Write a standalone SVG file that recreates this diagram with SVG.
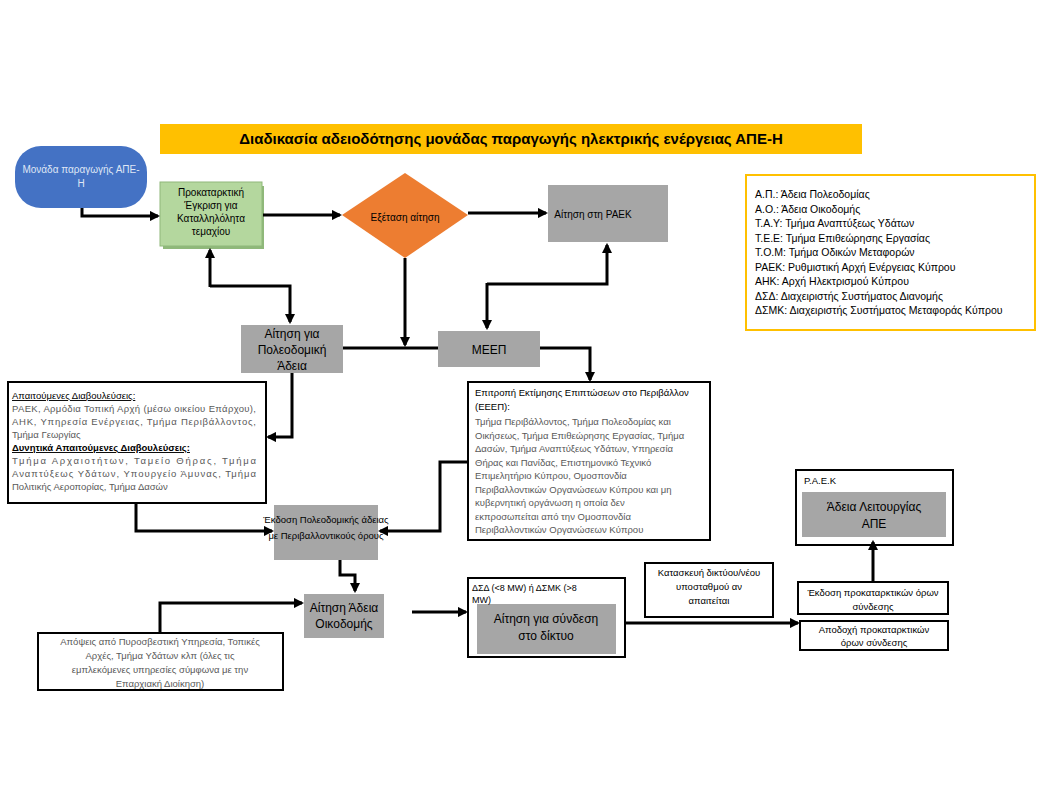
<svg xmlns="http://www.w3.org/2000/svg" width="1050" height="811" viewBox="0 0 1050 811">
<style>
text{font-family:"Liberation Sans",Arial,sans-serif;fill:#000}
.c{text-anchor:middle}
.g{fill:#a6a6a6}
.bx{fill:#fff;stroke:#000;stroke-width:2}
.gr{fill:#595959}
.cn path{fill:none;stroke:#000;stroke-width:3}
</style>
<defs>
<marker id="a" viewBox="0 0 10 10" refX="8" refY="5" markerWidth="3.5" markerHeight="3.5" orient="auto"><path d="M0,0L10,5L0,10z" fill="#000"/></marker>
</defs>
<rect width="1050" height="811" fill="#fff"/>
<g id="title"><rect x="160" y="124" width="702" height="30" fill="#ffc000"/><text class="c" x="511" y="144" font-size="15" font-weight="bold">Διαδικασία αδειοδότησης μονάδας παραγωγής ηλεκτρικής ενέργειας ΑΠΕ-Η</text></g>
<g id="start"><rect x="15" y="146" width="132" height="62" rx="26" fill="#4472c4"/><text class="c" x="81" y="173" font-size="10" style="fill:#dfe6f5">Μονάδα παραγωγής ΑΠΕ-</text><text class="c" x="81" y="187" font-size="10" style="fill:#dfe6f5">Η</text></g>
<g id="green"><rect x="163" y="186" width="101" height="63" fill="#8fb87a"/><rect x="160" y="182" width="102" height="64" fill="#b4d79e" stroke="#8fb87a"/><text class="c" x="211" y="196" font-size="10">Προκαταρκτική</text><text class="c" x="211" y="209" font-size="10">Έγκριση για</text><text class="c" x="211" y="222" font-size="10">Καταλληλόλητα</text><text class="c" x="211" y="235" font-size="10">τεμαχίου</text></g>
<g id="diamond"><polygon points="405,173 468,215 405,258 342,215" fill="#ed7d31"/><text class="c" x="405" y="221" font-size="10">Εξέταση αίτηση</text></g>
<g id="raek1"><rect x="548" y="185" width="120" height="57" class="g"/><text class="c" x="593" y="218" font-size="10">Αίτηση στη ΡΑΕΚ</text></g>
<g id="poleod"><rect x="241" y="325" width="102" height="48" class="g"/><text class="c" x="292" y="338" font-size="12">Αίτηση για</text><text class="c" x="292" y="354" font-size="12">Πολεοδομική</text><text class="c" x="292" y="370" font-size="12">Άδεια</text></g>
<g id="meep"><rect x="438" y="331" width="102" height="36" class="g"/><text class="c" x="489" y="354" font-size="12">ΜΕΕΠ</text></g>
<g id="legend"><rect x="746" y="175" width="289" height="155" fill="#fff" stroke="#ffc000" stroke-width="2"/>
<g font-size="10.5"><text x="755" y="198">Α.Π.: Άδεια Πολεοδομίας</text><text x="755" y="212.5">Α.Ο.: Άδεια Οικοδομής</text><text x="755" y="227">Τ.Α.Υ: Τμήμα Αναπτύξεως Υδάτων</text><text x="755" y="241.5">Τ.Ε.Ε: Τμήμα Επιθεώρησης Εργασίας</text><text x="755" y="256">Τ.Ο.Μ: Τμήμα Οδικών Μεταφορών</text><text x="755" y="270.5">ΡΑΕΚ: Ρυθμιστική Αρχή Ενέργειας Κύπρου</text><text x="755" y="285">ΑΗΚ: Αρχή Ηλεκτρισμού Κύπρου</text><text x="755" y="299.5">ΔΣΔ: Διαχειριστής Συστήματος Διανομής</text><text x="755" y="314">ΔΣΜΚ: Διαχειριστής Συστήματος Μεταφοράς Κύπρου</text></g></g>
<g id="consult"><rect x="8" y="382" width="258" height="121" class="bx"/>
<g font-size="9.5"><text x="12" y="399" text-decoration="underline">Απαιτούμενες Διαβουλεύσεις:</text>
<text x="12" y="412" class="gr" textLength="244" lengthAdjust="spacing">ΡΑΕΚ, Αρμόδια Τοπική Αρχή (μέσω οικείου Επάρχου),</text>
<text x="12" y="425" class="gr" textLength="244" lengthAdjust="spacing">ΑΗΚ, Υπηρεσία Ενέργειας, Τμήμα Περιβάλλοντος,</text>
<text x="12" y="438" class="gr">Τμήμα Γεωργίας</text>
<text x="12" y="451" font-weight="bold" text-decoration="underline">Δυνητικά Απαιτούμενες Διαβουλεύσεις:</text>
<text x="12" y="464" class="gr" textLength="244" lengthAdjust="spacing">Τμήμα Αρχαιοτήτων, Ταμείο Θήρας, Τμήμα</text>
<text x="12" y="477" class="gr" textLength="244" lengthAdjust="spacing">Αναπτύξεως Υδάτων, Υπουργείο Άμυνας, Τμήμα</text>
<text x="12" y="490" class="gr">Πολιτικής Αεροπορίας, Τμήμα Δασών</text></g></g>
<g id="eeep"><rect x="468" y="382" width="242" height="158" class="bx"/>
<g font-size="9.5"><text x="475" y="396">Επιτροπή Εκτίμησης Επιπτώσεων στο Περιβάλλον</text><text x="475" y="410">(ΕΕΕΠ):</text>
<g class="gr"><text x="475" y="425" class="gr">Τμήμα Περιβάλλοντος, Τμήμα Πολεοδομίας και</text><text x="475" y="438.5" class="gr">Οικήσεως, Τμήμα Επιθεώρησης Εργασίας, Τμήμα</text><text x="475" y="452" class="gr">Δασών, Τμήμα Αναπτύξεως Υδάτων, Υπηρεσία</text><text x="475" y="465.5" class="gr">Θήρας και Πανίδας, Επιστημονικό Τεχνικό</text><text x="475" y="479" class="gr">Επιμελητήριο Κύπρου, Ομοσπονδία</text><text x="475" y="492.5" class="gr">Περιβαλλοντικών Οργανώσεων Κύπρου και μη</text><text x="475" y="506" class="gr">κυβερνητική οργάνωση η οποία δεν</text><text x="475" y="519.5" class="gr">εκπροσωπείται από την Ομοσπονδία</text><text x="475" y="533" class="gr">Περιβαλλοντικών Οργανώσεων Κύπρου</text></g></g></g>
<g id="ekdosi"><rect x="274" y="505" width="104" height="55" class="g"/><text class="c" x="326" y="523" font-size="9.5">Έκδοση Πολεοδομικής άδειας</text><text class="c" x="326" y="539" font-size="9.5">με Περιβαλλοντικούς όρους</text></g>
<g id="oikod"><rect x="304" y="594" width="80" height="44" class="g"/><text class="c" x="344" y="612" font-size="12">Αίτηση Άδεια</text><text class="c" x="344" y="628" font-size="12">Οικοδομής</text></g>
<g id="apopseis"><rect x="38" y="633" width="245" height="57" class="bx" stroke-width="1.5"/><g font-size="9.5" class="gr"><text class="c gr" x="160" y="645">Απόψεις από Πυροσβεστική Υπηρεσία, Τοπικές</text><text class="c gr" x="160" y="659">Αρχές, Τμήμα Υδάτων κλπ (όλες τις</text><text class="c gr" x="160" y="673">εμπλεκόμενες υπηρεσίες σύμφωνα με την</text><text class="c gr" x="160" y="687">Επαρχιακή Διοίκηση)</text></g></g>
<g id="dsd"><rect x="468" y="578" width="157" height="79" class="bx"/><rect x="477" y="604" width="139" height="50" class="g"/><text x="472" y="591" font-size="9">ΔΣΔ (&lt;8 MW) ή ΔΣΜΚ (&gt;8</text><text x="472" y="603" font-size="9">MW)</text><text class="c" x="546" y="623" font-size="12">Αίτηση για σύνδεση</text><text class="c" x="546" y="640" font-size="12">στο δίκτυο</text></g>
<g id="kataskevi"><rect x="645" y="563" width="128" height="54" class="bx"/><text class="c" x="709" y="576" font-size="9.5">Κατασκευή δικτύου/νέου</text><text class="c" x="709" y="590" font-size="9.5">υποσταθμού αν</text><text class="c" x="709" y="604" font-size="9.5">απαιτείται</text></g>
<g id="ekdosiOron"><rect x="798" y="582" width="150" height="32" class="bx"/><text class="c" x="873" y="596" font-size="9.5">Έκδοση προκαταρκτικών όρων</text><text class="c" x="873" y="610" font-size="9.5">σύνδεσης</text></g>
<g id="apodoxi"><rect x="800" y="621" width="148" height="29" class="bx"/><text class="c" x="874" y="633" font-size="9.5">Αποδοχή προκαταρκτικών</text><text class="c" x="874" y="646" font-size="9.5">όρων σύνδεσης</text></g>
<g id="raek2"><rect x="796" y="470" width="157" height="75" class="bx"/><text x="804" y="484" font-size="9.5">Ρ.Α.Ε.Κ</text><rect x="802" y="492" width="144" height="45" class="g"/><text class="c" x="874" y="511" font-size="12">Άδεια Λειτουργίας</text><text class="c" x="874" y="528" font-size="12">ΑΠΕ</text></g>
<g class="cn">
<path d="M82,208V216H158" marker-end="url(#a)"/>
<path d="M263,215H340" marker-end="url(#a)"/>
<path d="M468,213H546" marker-end="url(#a)"/>
<path d="M405,258V345" marker-end="url(#a)"/>
<path d="M343,348H438"/>
<path d="M210,287V250" marker-end="url(#a)"/>
<path d="M210,286H290V322" marker-end="url(#a)"/>
<path d="M487,283V328" marker-end="url(#a)"/>
<path d="M487,284H607V245" marker-end="url(#a)"/>
<path d="M540,348H590V380" marker-end="url(#a)"/>
<path d="M292,373V437H268" marker-end="url(#a)"/>
<path d="M136,503V531H272" marker-end="url(#a)"/>
<path d="M468,462H440V531H380" marker-end="url(#a)"/>
<path d="M340,560V575H355V591" marker-end="url(#a)"/>
<path d="M160,633V603H302" marker-end="url(#a)"/>
<path d="M412,612H466" marker-end="url(#a)"/>
<path d="M625,623H798" marker-end="url(#a)"/>
<path d="M873,582V542" marker-end="url(#a)"/>
</g>
</svg>
